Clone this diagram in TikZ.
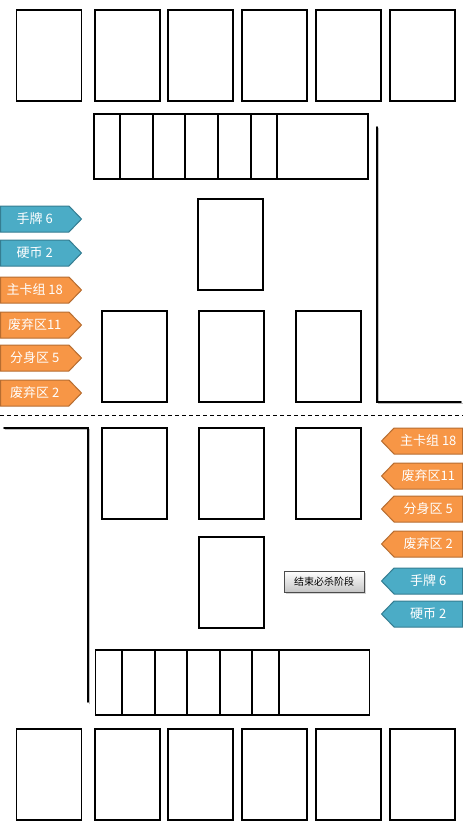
\documentclass[tikz,border=0pt]{standalone}
\usepackage{fontspec}
\newfontfamily\cjk{Noto Sans CJK SC}
\usetikzlibrary{calc, positioning}
\usetikzlibrary{shapes.symbols, shadows}
\definecolor{tagblue}{HTML}{4BACC6}
\definecolor{tagblueline}{HTML}{357D91}
\definecolor{tagorange}{HTML}{F79646}
\definecolor{tagorangeline}{HTML}{B66D31}
\tikzset{
  card/.style={draw, line width=1.4pt, minimum width=65pt, minimum height=91pt, inner sep=0pt},
  strip/.style={draw, line width=1.4pt, minimum width=274pt, minimum height=65pt, inner sep=0pt},
  tag/.style={signal, draw, line width=1pt, text=white, font=\cjk\fontsize{13}{15}\selectfont,
    minimum width=81pt, minimum height=26pt, inner sep=2pt, signal pointer angle=92},
  lefttag/.style={tag, signal to=east, anchor=west},
  righttag/.style={tag, signal to=west, anchor=east},
  bluetag/.style={fill=tagblue, draw=tagblueline},
  orangetag/.style={fill=tagorange, draw=tagorangeline},
  endbutton/.style={draw=gray!60!black, top color=white, bottom color=gray!45,
    drop shadow={shadow xshift=1.5pt, shadow yshift=-1.5pt, opacity=0.35},
    minimum width=80pt, minimum height=21pt, inner sep=1pt, font=\cjk\fontsize{10}{12}\selectfont},
  wall/.style={line width=1.6pt, line cap=round},
  wallshadow/.style={line width=1.6pt, gray!50, line cap=round}
}
\begin{document}
\begin{tikzpicture}[x=1pt, y=-1pt]
\useasboundingbox (0,0) rectangle (463,827);

% top player
\foreach \i/\x in {1/49, 2/127.5, 3/200.5, 4/274.5, 5/348.5, 6/422.5}
  \node[card] (top\i) at (\x,55.5) {};
\node[strip] (topstrip) at (231,146.5) {};
\foreach \x in {120, 153, 185, 218, 251, 277}
  \draw[line width=1.4pt] (\x,0 |- topstrip.north) -- (\x,0 |- topstrip.south);
\node[card] (topmid) at (230.5,244.5) {};
\foreach \i/\x in {1/134.5, 2/231.5, 3/328.5}
  \node[card] (topfield\i) at (\x,356.5) {};

% top wall
\coordinate (tw1) at (377,127);
\coordinate (tw2) at (377,402);
\coordinate (tw3) at (461,402);
\draw[wallshadow] ($(tw1)+(1.5,1.5)$) -- ($(tw2)+(1.5,1.5)$) -- ($(tw3)+(1.5,1.5)$);
\draw[wall] (tw1) -- (tw2) -- (tw3);

% top counters
\node[lefttag, bluetag] (tophand) at (0,219) {手牌 6};
\node[lefttag, bluetag] (topcoin) at (0,253) {硬币 2};
\node[lefttag, orangetag] (topdeck) at (0,290) {主卡组 18};
\node[lefttag, orangetag] (topdrop) at (0,325) {废弃区11};
\node[lefttag, orangetag] (topclone) at (0,358) {分身区 5};
\node[lefttag, orangetag] (topdrop2) at (0,393) {废弃区 2};

% divider
\coordinate (dl) at (0,415);
\coordinate (dr) at (463,415);
\draw[dashed, dash pattern=on 4pt off 3pt] (dl) -- (dr);

% bottom player
\foreach \i/\x in {1/134.5, 2/231.5, 3/328.5}
  \node[card] (botfield\i) at (\x,473.5) {};
\node[card] (botmid) at (231.5,582.5) {};
\node[strip] (botstrip) at (232.5,682.5) {};
\foreach \x in {122, 155, 187, 220, 252, 279}
  \draw[line width=1.4pt] (\x,0 |- botstrip.north) -- (\x,0 |- botstrip.south);
\foreach \i/\x in {1/49, 2/127.5, 3/200.5, 4/274.5, 5/348.5, 6/422.5}
  \node[card] (bot\i) at (\x,774.5) {};

% bottom wall
\coordinate (bw1) at (4,428);
\coordinate (bw2) at (88,428);
\coordinate (bw3) at (88,702);
\draw[wallshadow] ($(bw1)+(1.5,1.5)$) -- ($(bw2)+(1.5,1.5)$) -- ($(bw3)+(1.5,1.5)$);
\draw[wall] (bw1) -- (bw2) -- (bw3);

% bottom counters
\node[righttag, orangetag] (botdeck) at (463,441) {主卡组 18};
\node[righttag, orangetag] (botdrop) at (463,476) {废弃区11};
\node[righttag, orangetag] (botclone) at (463,509) {分身区 5};
\node[righttag, orangetag] (botdrop2) at (463,544) {废弃区 2};
\node[righttag, bluetag] (bothand) at (463,581) {手牌 6};
\node[righttag, bluetag] (botcoin) at (463,614) {硬币 2};

\node[endbutton] (endphase) at (324,581.5) {结束必杀阶段};
\end{tikzpicture}
\end{document}
